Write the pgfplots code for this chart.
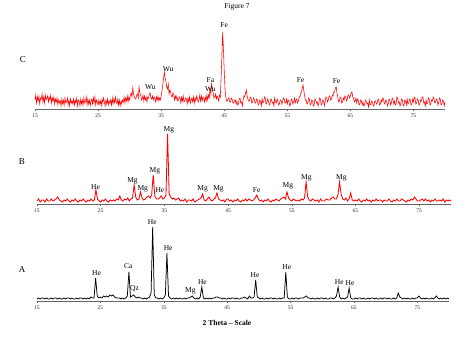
\documentclass[border=0pt]{standalone}
\usepackage{fontspec}
\setmainfont{Liberation Serif}
\usepackage{pgfplots}
\pgfplotsset{compat=1.18}
\pgfplotsset{
  xrd/.style={
    scale only axis, anchor=south west, height=80pt,
    xmin=15, xmax=80, ymin=0, ymax=80,
    axis x line=bottom, axis y line=none,
    axis line style={-, black!60, line width=0.5pt},
    xtick={15,25,...,75}, tick align=outside, major tick length=2pt,
    tick style={black!60, line width=0.4pt},
    xticklabel style={font=\fontsize{5.5}{6}\selectfont, inner sep=1pt, yshift=-2pt, text=black!85},
    /pgf/number format/assume math mode=true,
    clip=false,
  },
  table/dat/.style={row sep=\\, header=false, x expr=15+0.25*\coordindex, y index=0},
  table/datc/.style={row sep=\\, header=false, x expr=15+0.125*\coordindex, y index=0},
}
\tikzset{pk/.style={font=\fontsize{7.5}{8}\selectfont, inner sep=0pt}}
\begin{document}
\begin{tikzpicture}
\useasboundingbox (0,0) rectangle (474pt,355pt);
\node[font=\fontsize{7.5}{8}\selectfont] at (237pt,348pt) {Figure 7};
\node[font=\fontsize{9}{10}\selectfont] at (23pt,295pt) {C};
\node[font=\fontsize{9}{10}\selectfont] at (22pt,193pt) {B};
\node[font=\fontsize{9}{10}\selectfont] at (22pt,85pt) {A};
\node[font=\bfseries\fontsize{7.5}{8}\selectfont] at (227pt,32pt) {2 Theta -- Scale};

% ---------------- C ----------------
\begin{axis}[xrd, at={(35pt,246pt)}, width=410pt]
\addplot[red, line width=0.55pt] table[datc] {
9\\14\\6\\12\\8\\13\\5\\11\\ 10\\15\\7\\12\\6\\14\\9\\11\\
13\\7\\12\\9\\14\\6\\11\\8\\ 12\\5\\10\\7\\11\\4\\9\\6\\
8\\3\\10\\5\\9\\4\\11\\6\\ 7\\11\\4\\9\\3\\10\\6\\8\\
5\\10\\4\\9\\6\\11\\3\\9\\ 8\\3\\10\\5\\9\\4\\11\\6\\
7\\12\\4\\10\\5\\9\\3\\8\\ 10\\5\\11\\6\\12\\4\\9\\7\\
4\\9\\5\\8\\3\\10\\6\\11\\ 7\\3\\9\\5\\10\\4\\8\\6\\
9\\4\\11\\5\\10\\6\\12\\7\\ 5\\10\\4\\9\\3\\8\\5\\9\\
7\\12\\6\\11\\8\\13\\7\\12\\ 9\\14\\16\\12\\21\\15\\12\\10\\
10\\14\\15\\11\\22\\16\\14\\9\\ 10\\14\\8\\13\\9\\12\\7\\12\\
11\\15\\16\\11\\10\\13\\9\\12\\ 11\\7\\12\\9\\13\\8\\11\\9\\
13\\18\\24\\30\\37\\31\\28\\22\\ 20\\25\\15\\19\\17\\13\\12\\16\\
14\\9\\13\\10\\13\\8\\9\\12\\ 11\\6\\12\\8\\13\\7\\8\\11\\
10\\5\\11\\7\\12\\6\\9\\11\\ 7\\12\\6\\11\\8\\13\\10\\7\\
9\\14\\8\\13\\8\\12\\11\\7\\ 12\\8\\14\\9\\14\\11\\20\\15\\
26\\19\\16\\11\\12\\15\\10\\13\\ 11\\8\\14\\12\\30\\52\\77\\60\\
38\\20\\12\\8\\8\\11\\11\\7\\ 7\\11\\10\\6\\6\\9\\9\\5\\
8\\4\\5\\10\\11\\6\\7\\3\\ 9\\13\\12\\16\\19\\13\\10\\8\\
8\\12\\11\\6\\7\\11\\10\\6\\ 6\\10\\9\\4\\5\\9\\8\\3\\
10\\6\\7\\12\\11\\5\\6\\10\\ 8\\4\\5\\10\\9\\6\\7\\3\\
11\\7\\6\\10\\8\\4\\5\\9\\ 9\\5\\7\\11\\10\\6\\6\\10\\
5\\9\\8\\3\\4\\10\\9\\5\\ 7\\11\\6\\9\\10\\6\\8\\12\\
12\\16\\17\\21\\24\\18\\13\\9\\ 9\\5\\6\\11\\10\\4\\5\\9\\
8\\3\\4\\10\\9\\6\\7\\3\\ 6\\11\\10\\4\\5\\9\\8\\3\\
7\\12\\11\\7\\9\\13\\13\\9\\ 10\\14\\13\\17\\17\\21\\22\\16\\
12\\7\\8\\12\\11\\6\\7\\11\\ 9\\13\\12\\8\\10\\14\\14\\11\\
13\\16\\17\\12\\11\\7\\8\\11\\ 6\\10\\9\\4\\5\\9\\8\\4\\
7\\3\\4\\9\\8\\5\\6\\2\\ 9\\4\\5\\8\\7\\3\\4\\8\\
8\\5\\6\\10\\9\\4\\5\\9\\ 7\\11\\10\\5\\6\\9\\8\\3\\
5\\10\\9\\4\\6\\11\\10\\5\\ 8\\4\\5\\12\\11\\6\\7\\3\\
6\\10\\9\\3\\4\\9\\8\\4\\ 10\\5\\6\\10\\9\\4\\5\\10\\
7\\12\\11\\5\\6\\10\\9\\4\\ 5\\9\\8\\12\\12\\6\\7\\3\\
9\\5\\6\\11\\10\\4\\5\\9\\ 8\\12\\11\\6\\7\\10\\9\\4\\
6\\11\\10\\4\\5\\9\\8\\3\\ 7\\
};
\node[pk] at (axis cs:33.3,22) {Wu};
\node[pk] at (axis cs:36.1,40) {Wu};
\node[pk] at (axis cs:42.8,29) {Fa};
\node[pk] at (axis cs:42.8,20) {Wu};
\node[pk] at (axis cs:45.0,84) {Fe};
\node[pk] at (axis cs:57.1,29) {Fe};
\node[pk] at (axis cs:62.8,28) {Fe};
\end{axis}

% ---------------- B ----------------
\begin{axis}[xrd, at={(37pt,151pt)}, width=414pt]
\addplot[red, line width=0.85pt] table[dat] {
3\\5\\2\\4\\ 4\\2\\5\\3\\ 3\\5\\3\\4\\ 5\\7\\4\\3\\
2\\4\\3\\5\\ 3\\2\\4\\3\\ 5\\3\\2\\4\\ 3\\5\\3\\2\\
4\\3\\5\\3\\ 4\\14\\5\\3\\ 2\\4\\3\\5\\ 3\\2\\4\\3\\
4\\3\\5\\4\\ 8\\4\\3\\5\\ 4\\6\\3\\5\\ 6\\19\\7\\4\\
5\\12\\6\\4\\ 5\\7\\8\\6\\ 9\\29\\8\\5\\ 5\\6\\8\\5\\
6\\9\\70\\10\\ 7\\5\\6\\4\\ 5\\6\\3\\4\\ 3\\5\\2\\4\\
4\\3\\5\\2\\ 3\\4\\5\\6\\ 10\\4\\3\\5\\ 7\\4\\3\\5\\
6\\11\\5\\4\\ 3\\4\\2\\5\\ 5\\3\\4\\2\\ 4\\3\\5\\3\\
2\\4\\3\\5\\ 3\\5\\4\\3\\ 4\\6\\9\\5\\ 3\\4\\2\\4\\
3\\5\\3\\2\\ 4\\3\\5\\4\\ 3\\5\\6\\7\\ 5\\12\\6\\4\\
3\\5\\4\\3\\ 4\\3\\5\\4\\ 6\\22\\7\\4\\ 3\\5\\4\\3\\
4\\2\\5\\3\\ 3\\4\\5\\4\\ 4\\6\\7\\5\\ 5\\9\\22\\10\\
5\\4\\6\\3\\ 5\\11\\4\\3\\ 4\\3\\5\\3\\ 2\\4\\3\\5\\
3\\4\\2\\4\\ 3\\5\\3\\4\\ 4\\2\\4\\3\\ 3\\5\\3\\2\\
4\\3\\5\\3\\ 3\\5\\4\\3\\ 2\\4\\3\\5\\ 4\\7\\5\\3\\
3\\4\\5\\3\\ 5\\3\\4\\2\\ 4\\3\\5\\3\\ 3\\4\\3\\5\\
2\\4\\3\\4\\ 3\\
};
\node[pk] at (axis cs:24.2,17) {He};
\node[pk] at (axis cs:30.0,23) {Mg};
\node[pk] at (axis cs:31.6,15) {Mg};
\node[pk] at (axis cs:33.5,33) {Mg};
\node[pk] at (axis cs:34.3,14) {He};
\node[pk] at (axis cs:35.7,74) {Mg};
\node[pk] at (axis cs:41.0,15) {Mg};
\node[pk] at (axis cs:43.5,15) {Mg};
\node[pk] at (axis cs:49.5,14) {Fe};
\node[pk] at (axis cs:54.4,18) {Mg};
\node[pk] at (axis cs:57.3,26) {Mg};
\node[pk] at (axis cs:62.8,26) {Mg};
\end{axis}

% ---------------- A ----------------
\begin{axis}[xrd, at={(37pt,54pt)}, width=412pt]
\addplot[black, line width=0.75pt] table[dat] {
2\\3\\2\\3\\ 3\\2\\3\\2\\ 2\\3\\2\\3\\ 3\\2\\3\\2\\
2\\3\\2\\3\\ 3\\2\\3\\2\\ 2\\3\\2\\3\\ 3\\2\\3\\2\\
3\\2\\4\\3\\ 3\\23\\5\\3\\ 4\\3\\5\\4\\ 5\\4\\6\\5\\
6\\4\\3\\3\\ 3\\2\\3\\2\\ 3\\5\\29\\4\\ 5\\6\\4\\3\\
4\\3\\3\\2\\ 3\\2\\3\\4\\ 8\\74\\6\\3\\ 3\\2\\3\\2\\
3\\6\\48\\5\\ 3\\2\\3\\2\\ 3\\2\\3\\2\\ 2\\3\\2\\3\\
3\\4\\5\\3\\ 2\\3\\2\\4\\ 14\\3\\2\\3\\ 2\\3\\2\\3\\
3\\4\\4\\3\\ 3\\2\\3\\2\\ 2\\3\\2\\3\\ 3\\2\\3\\2\\
2\\3\\3\\4\\ 3\\2\\5\\3\\ 3\\4\\21\\4\\ 3\\2\\3\\2\\
2\\3\\2\\3\\ 3\\2\\3\\2\\ 2\\3\\2\\3\\ 3\\29\\4\\2\\
2\\3\\2\\3\\ 3\\2\\3\\3\\ 3\\4\\5\\3\\ 3\\2\\3\\2\\
2\\3\\2\\3\\ 3\\2\\3\\2\\ 2\\3\\3\\2\\ 3\\5\\14\\4\\
2\\3\\2\\3\\ 4\\13\\3\\2\\ 2\\3\\2\\3\\ 3\\2\\3\\2\\
2\\3\\2\\3\\ 3\\2\\3\\2\\ 2\\3\\2\\3\\ 3\\2\\3\\2\\
2\\3\\2\\3\\ 8\\4\\3\\2\\ 3\\2\\3\\2\\ 2\\3\\2\\3\\
3\\5\\3\\2\\ 3\\2\\3\\2\\ 2\\3\\2\\3\\ 5\\3\\2\\3\\
2\\3\\2\\3\\ 2\\
};
\node[pk] at (axis cs:24.4,28) {He};
\node[pk] at (axis cs:29.4,35) {Ca};
\node[pk] at (axis cs:30.4,12) {Qz};
\node[pk] at (axis cs:33.2,79) {He};
\node[pk] at (axis cs:35.7,53) {He};
\node[pk] at (axis cs:39.2,10) {Mg};
\node[pk] at (axis cs:41.1,19) {He};
\node[pk] at (axis cs:49.4,26) {He};
\node[pk] at (axis cs:54.4,34) {He};
\node[pk] at (axis cs:62.7,19) {He};
\node[pk] at (axis cs:64.4,18) {He};
\end{axis}
\end{tikzpicture}
\end{document}
